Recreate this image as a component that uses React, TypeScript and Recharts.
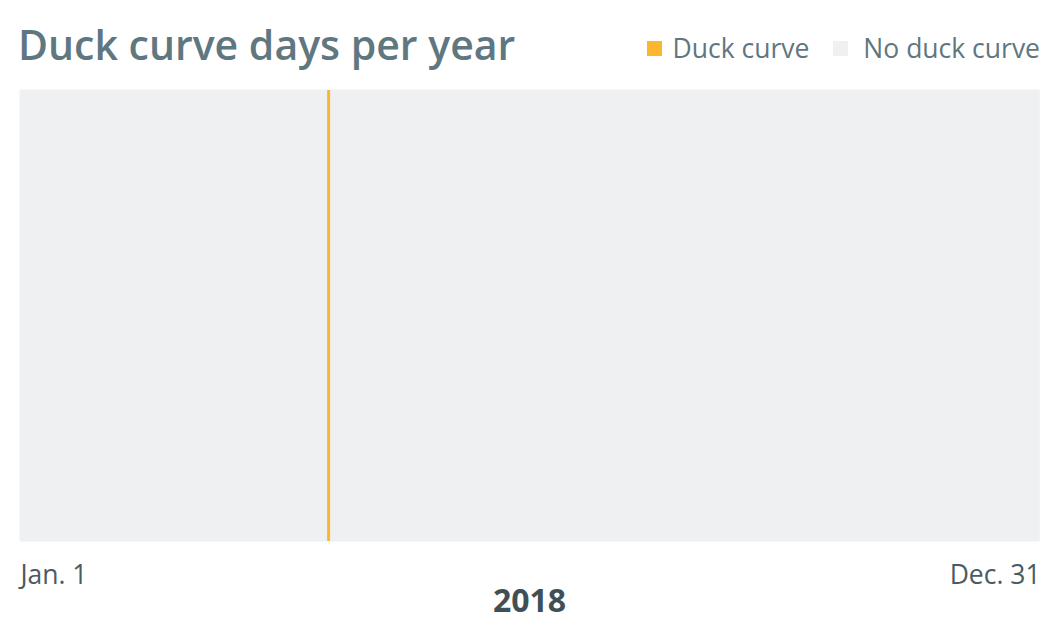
import React from "react";
import { BarChart, Bar, XAxis, YAxis, Label } from "recharts";

const YEAR = 2018;
const MONTHS = ["Jan.", "Feb.", "Mar.", "Apr.", "May", "Jun.", "Jul.", "Aug.", "Sep.", "Oct.", "Nov.", "Dec."];
const MONTH_LENGTHS = [31, 28, 31, 30, 31, 30, 31, 31, 30, 31, 30, 31];

// Days of 2018 as category labels
const days: string[] = [];
MONTHS.forEach((m, i) => {
  for (let d = 1; d <= MONTH_LENGTHS[i]; d++) days.push(`${m} ${d}`);
});

// Days on which a duck curve occurred
const duckCurveDays: string[] = ["Apr. 21"];

// Tick labels shown on the axis
const tickLabels: string[] = ["Jan. 1", "Dec. 31"];

const seriesNames = { duck: "Duck curve", noDuck: "No duck curve" };
const COLORS = { duck: "#fcb72f", noDuck: "#eff0f2" };

const data = days.map((day) => {
  const isDuck = duckCurveDays.includes(day);
  return { day, duck: isDuck ? 1 : 0, noDuck: isDuck ? 0 : 1 };
});

const FONT = "'Open Sans', 'Noto Sans', sans-serif";

const Tick = (props: any) => {
  const { x, payload } = props;
  const first = payload.value === tickLabels[0];
  return (
    <text
      x={first ? x - 1 : x + 3}
      y={584}
      textAnchor={first ? "start" : "end"}
      fill="#4a5b63"
      fontSize={26.5}
      fontFamily={FONT}
    >
      {payload.value}
    </text>
  );
};

export default function App() {
  return (
    <div style={{ position: "absolute", left: 0, top: 0, width: 1060, height: 636, background: "#fff", fontFamily: FONT }}>
      <div
        style={{
          position: "absolute",
          left: 18,
          top: 18,
          fontSize: 41,
          fontWeight: 600,
          color: "#5f7781",
          lineHeight: "52px",
          whiteSpace: "nowrap",
        }}
      >
        Duck curve days per year
      </div>
      <div
        style={{
          position: "absolute",
          right: 20,
          top: 31,
          display: "flex",
          alignItems: "center",
          fontSize: 26.5,
          color: "#5f7781",
          lineHeight: "34px",
          whiteSpace: "nowrap",
        }}
      >
        <span style={{ display: "inline-block", width: 15, height: 15, background: COLORS.duck, marginRight: 10 }} />
        <span style={{ marginRight: 24 }}>{seriesNames.duck}</span>
        <span style={{ display: "inline-block", width: 15, height: 15, background: COLORS.noDuck, marginRight: 15 }} />
        <span>{seriesNames.noDuck}</span>
      </div>
      <div style={{ position: "absolute", left: 0, top: 0 }}>
        <BarChart
          width={1060}
          height={636}
          data={data}
          margin={{ top: 90, right: 21, left: 20, bottom: 0 }}
          barCategoryGap={0}
          barGap={0}
        >
          <XAxis
            dataKey="day"
            ticks={tickLabels}
            interval={0}
            tick={<Tick />}
            axisLine={false}
            tickLine={false}
            height={95}
          >
            <Label
              value={String(YEAR)}
              position="insideBottom"
              offset={24}
              fill="#3f4f57"
              fontSize={32}
              fontWeight={700}
              fontFamily={FONT}
            />
          </XAxis>
          <YAxis hide domain={[0, 1]} />
          <Bar
            dataKey="noDuck"
            stackId="a"
            fill={COLORS.noDuck}
            stroke={COLORS.noDuck}
            strokeWidth={1}
            isAnimationActive={false}
          />
          <Bar dataKey="duck" stackId="a" fill={COLORS.duck} isAnimationActive={false} />
        </BarChart>
      </div>
    </div>
  );
}
